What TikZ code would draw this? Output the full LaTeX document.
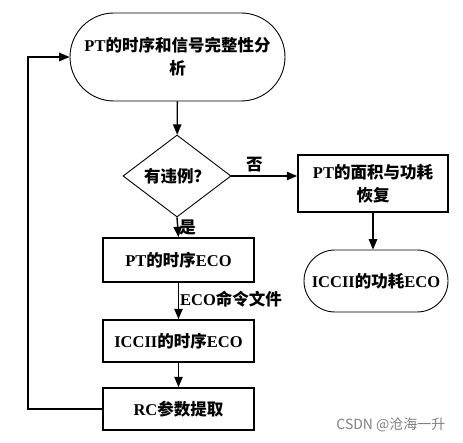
\documentclass[tikz,border=0pt]{standalone}
\usepackage{fontspec}
\setmainfont{Liberation Serif}
\newfontfamily\cjkfont{Noto Sans CJK SC}
\usepackage{tikz}
\usetikzlibrary{arrows,shapes.geometric,shapes.misc}
\newcommand{\zh}[1]{{\cjkfont #1}}

\tikzset{
	term/.style={rounded rectangle, draw, line width=0.9pt, align=center, inner sep=2pt},
	stepbox/.style={rectangle, draw, line width=1.8pt, align=center, minimum width=151pt, inner sep=2pt},
	decide/.style={diamond, draw, line width=0.9pt, minimum width=108pt, minimum height=82pt, inner sep=0pt},
	flow/.style={->, >=triangle 45, line width=1.4pt}
}

\begin{document}
\begin{tikzpicture}[x=1pt, y=-1pt, font=\fontsize{16.5}{23}\selectfont\bfseries]
		\useasboundingbox (0,0) rectangle (463,443);

		\node[term, minimum width=219pt, minimum height=88pt] (start) at (177.5,57) {PT\zh{的时序和信号完整性分}\\\zh{析}};
		\node[decide] (dia) at (177,176) {\zh{有违例？}};
		\node[stepbox, minimum width=150pt, minimum height=57pt] (area) at (373,183.5) {PT\zh{的面积与功耗}\\\zh{恢复}};
		\node[term, minimum width=148pt, minimum height=62pt] (pwr) at (376,281) {ICCII\zh{的功耗}ECO};
		\node[stepbox, minimum height=44pt] (teco) at (178.5,260) {PT\zh{的时序}ECO};
		\node[stepbox, minimum height=42pt] (ieco) at (178.5,341) {ICCII\zh{的时序}ECO};
		\node[stepbox, minimum height=42pt] (rc) at (178.5,409) {RC\zh{参数提取}};
		\coordinate (fb) at (28,409);

		\draw[flow] (start) -- (dia);
		\draw[flow] (dia.east) -- (dia.east -| area.west) node[pos=0.35, anchor=south]{\zh{否}};
		\draw[flow] (area.south) -- (area.south |- pwr.north);
		\draw[flow] (dia.south) -- (teco.north) node[pos=0.5, anchor=west, inner sep=1pt]{\zh{是}};
		\draw[flow] (teco) -- (ieco) node[pos=0.45, anchor=west, inner sep=1pt]{ECO\zh{命令文件}};
		\draw[flow] (ieco) -- (rc);
		\draw[flow] (rc.west) -- (fb) |- (start.west);

		\node[font=\fontsize{14}{16}\selectfont, text=gray, anchor=east] (mark) at (449,425) {\zh{CSDN @沧海一升}};
	\end{tikzpicture}
\end{document}
